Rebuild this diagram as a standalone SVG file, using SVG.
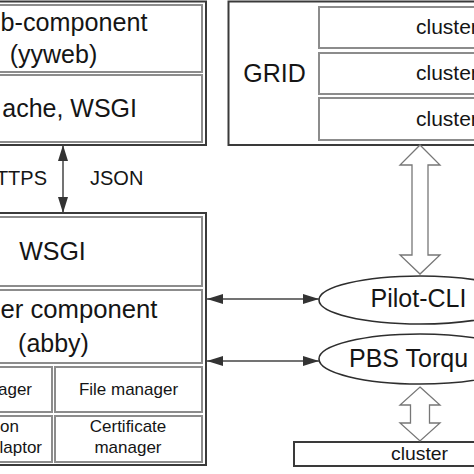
<svg xmlns="http://www.w3.org/2000/svg" width="474" height="474" viewBox="0 0 474 474">
<defs>
<style>
.outer{fill:#fff;stroke:#3a3a3a;stroke-width:2}
.inner{fill:#fff;stroke:#8c8c8c;stroke-width:2}
.ell{fill:#fff;stroke:#2e2e2e;stroke-width:1.6}
.hollow{fill:#fff;stroke:#777;stroke-width:1.3}
.conn{stroke:#444;stroke-width:1.5;fill:none}
text{font-family:"Liberation Sans",Arial,sans-serif;fill:#151515}
.big{font-size:25px}
.mid{font-size:20px}
.sm{font-size:17px}
.cl{font-size:21px}
</style>
<marker id="ah" viewBox="0 0 16 10" refX="16" refY="5" markerWidth="16" markerHeight="10" markerUnits="userSpaceOnUse" orient="auto-start-reverse">
<path d="M0,0 L16,5 L0,10 Z" fill="#333"/>
</marker>
</defs>
<rect width="474" height="474" fill="#fff"/>

<g id="web-component">
<rect class="outer" x="-10" y="1.5" width="216" height="143.5"/>
<rect class="inner" x="-10" y="5" width="212" height="67"/>
<rect class="inner" x="-10" y="75" width="212" height="67"/>
<text class="big" x="0.5" y="31" textLength="147" lengthAdjust="spacingAndGlyphs">b-component</text>
<text class="big" x="53.5" y="63" text-anchor="middle">(yyweb)</text>
<text class="big" x="137" y="117" text-anchor="end">ache, WSGI</text>
</g>

<g id="grid">
<rect class="outer" x="228.5" y="1.5" width="260" height="143.5"/>
<rect class="inner" x="319" y="7" width="170" height="41"/>
<rect class="inner" x="319" y="53" width="170" height="41"/>
<rect class="inner" x="319" y="98" width="170" height="42"/>
<text class="big" x="274.5" y="82" text-anchor="middle">GRID</text>
<text class="cl" x="416" y="34">cluster</text>
<text class="cl" x="416" y="80">cluster</text>
<text class="cl" x="416" y="126">cluster</text>
</g>

<g id="manager-component">
<rect class="outer" x="-10" y="213" width="216" height="252"/>
<rect class="inner" x="-10" y="217" width="212" height="69"/>
<rect class="inner" x="-10" y="290" width="212" height="73"/>
<rect class="inner" x="-10" y="367" width="62" height="45"/>
<rect class="inner" x="55" y="367" width="147" height="45"/>
<rect class="inner" x="-10" y="416" width="62" height="46"/>
<rect class="inner" x="55" y="416" width="147" height="46"/>
<text class="big" x="52.5" y="260" text-anchor="middle">WSGI</text>
<text class="big" x="0.5" y="318" textLength="157" lengthAdjust="spacingAndGlyphs">er component</text>
<text class="big" x="53.5" y="352" text-anchor="middle">(abby)</text>
<text class="sm" x="32" y="395" text-anchor="end">ager</text>
<text class="sm" x="128.5" y="395" text-anchor="middle">File manager</text>
<text class="sm" x="19" y="432" text-anchor="end">on</text>
<text class="sm" x="42" y="453" text-anchor="end">laptor</text>
<text class="sm" x="128" y="432" text-anchor="middle">Certificate</text>
<text class="sm" x="128" y="453" text-anchor="middle">manager</text>
</g>

<g id="pilot-cli">
<ellipse class="ell" cx="420" cy="300" rx="101" ry="24"/>
<text class="big" x="418.5" y="307" text-anchor="middle">Pilot-CLI</text>
</g>

<g id="pbs-torque">
<ellipse class="ell" cx="420" cy="359" rx="101" ry="25"/>
<text class="big" x="349" y="367">PBS Torqu</text>
</g>

<g id="cluster-bottom">
<rect class="outer" x="294" y="442" width="200" height="24" stroke-width="1.6"/>
<text x="391" y="460" font-size="19" textLength="57" lengthAdjust="spacingAndGlyphs">cluster</text>
</g>

<g id="connectors">
<line class="conn" x1="63" y1="145" x2="63" y2="213" marker-start="url(#ah)" marker-end="url(#ah)"/>
<text class="mid" x="47" y="185" text-anchor="end">TTPS</text>
<text class="mid" x="90" y="185">JSON</text>
<line class="conn" x1="207" y1="299" x2="319" y2="299" marker-start="url(#ah)" marker-end="url(#ah)"/>
<line class="conn" x1="207" y1="361" x2="319" y2="361" marker-start="url(#ah)" marker-end="url(#ah)"/>
<polygon class="hollow" points="420,145 440,165 428,165 428,255 440,255 420,274 400,255 412,255 412,165 400,165"/>
<polygon class="hollow" points="420,387 440,405 429.5,405 429.5,423 440,423 420,441 400,423 410.5,423 410.5,405 400,405"/>
</g>
</svg>
